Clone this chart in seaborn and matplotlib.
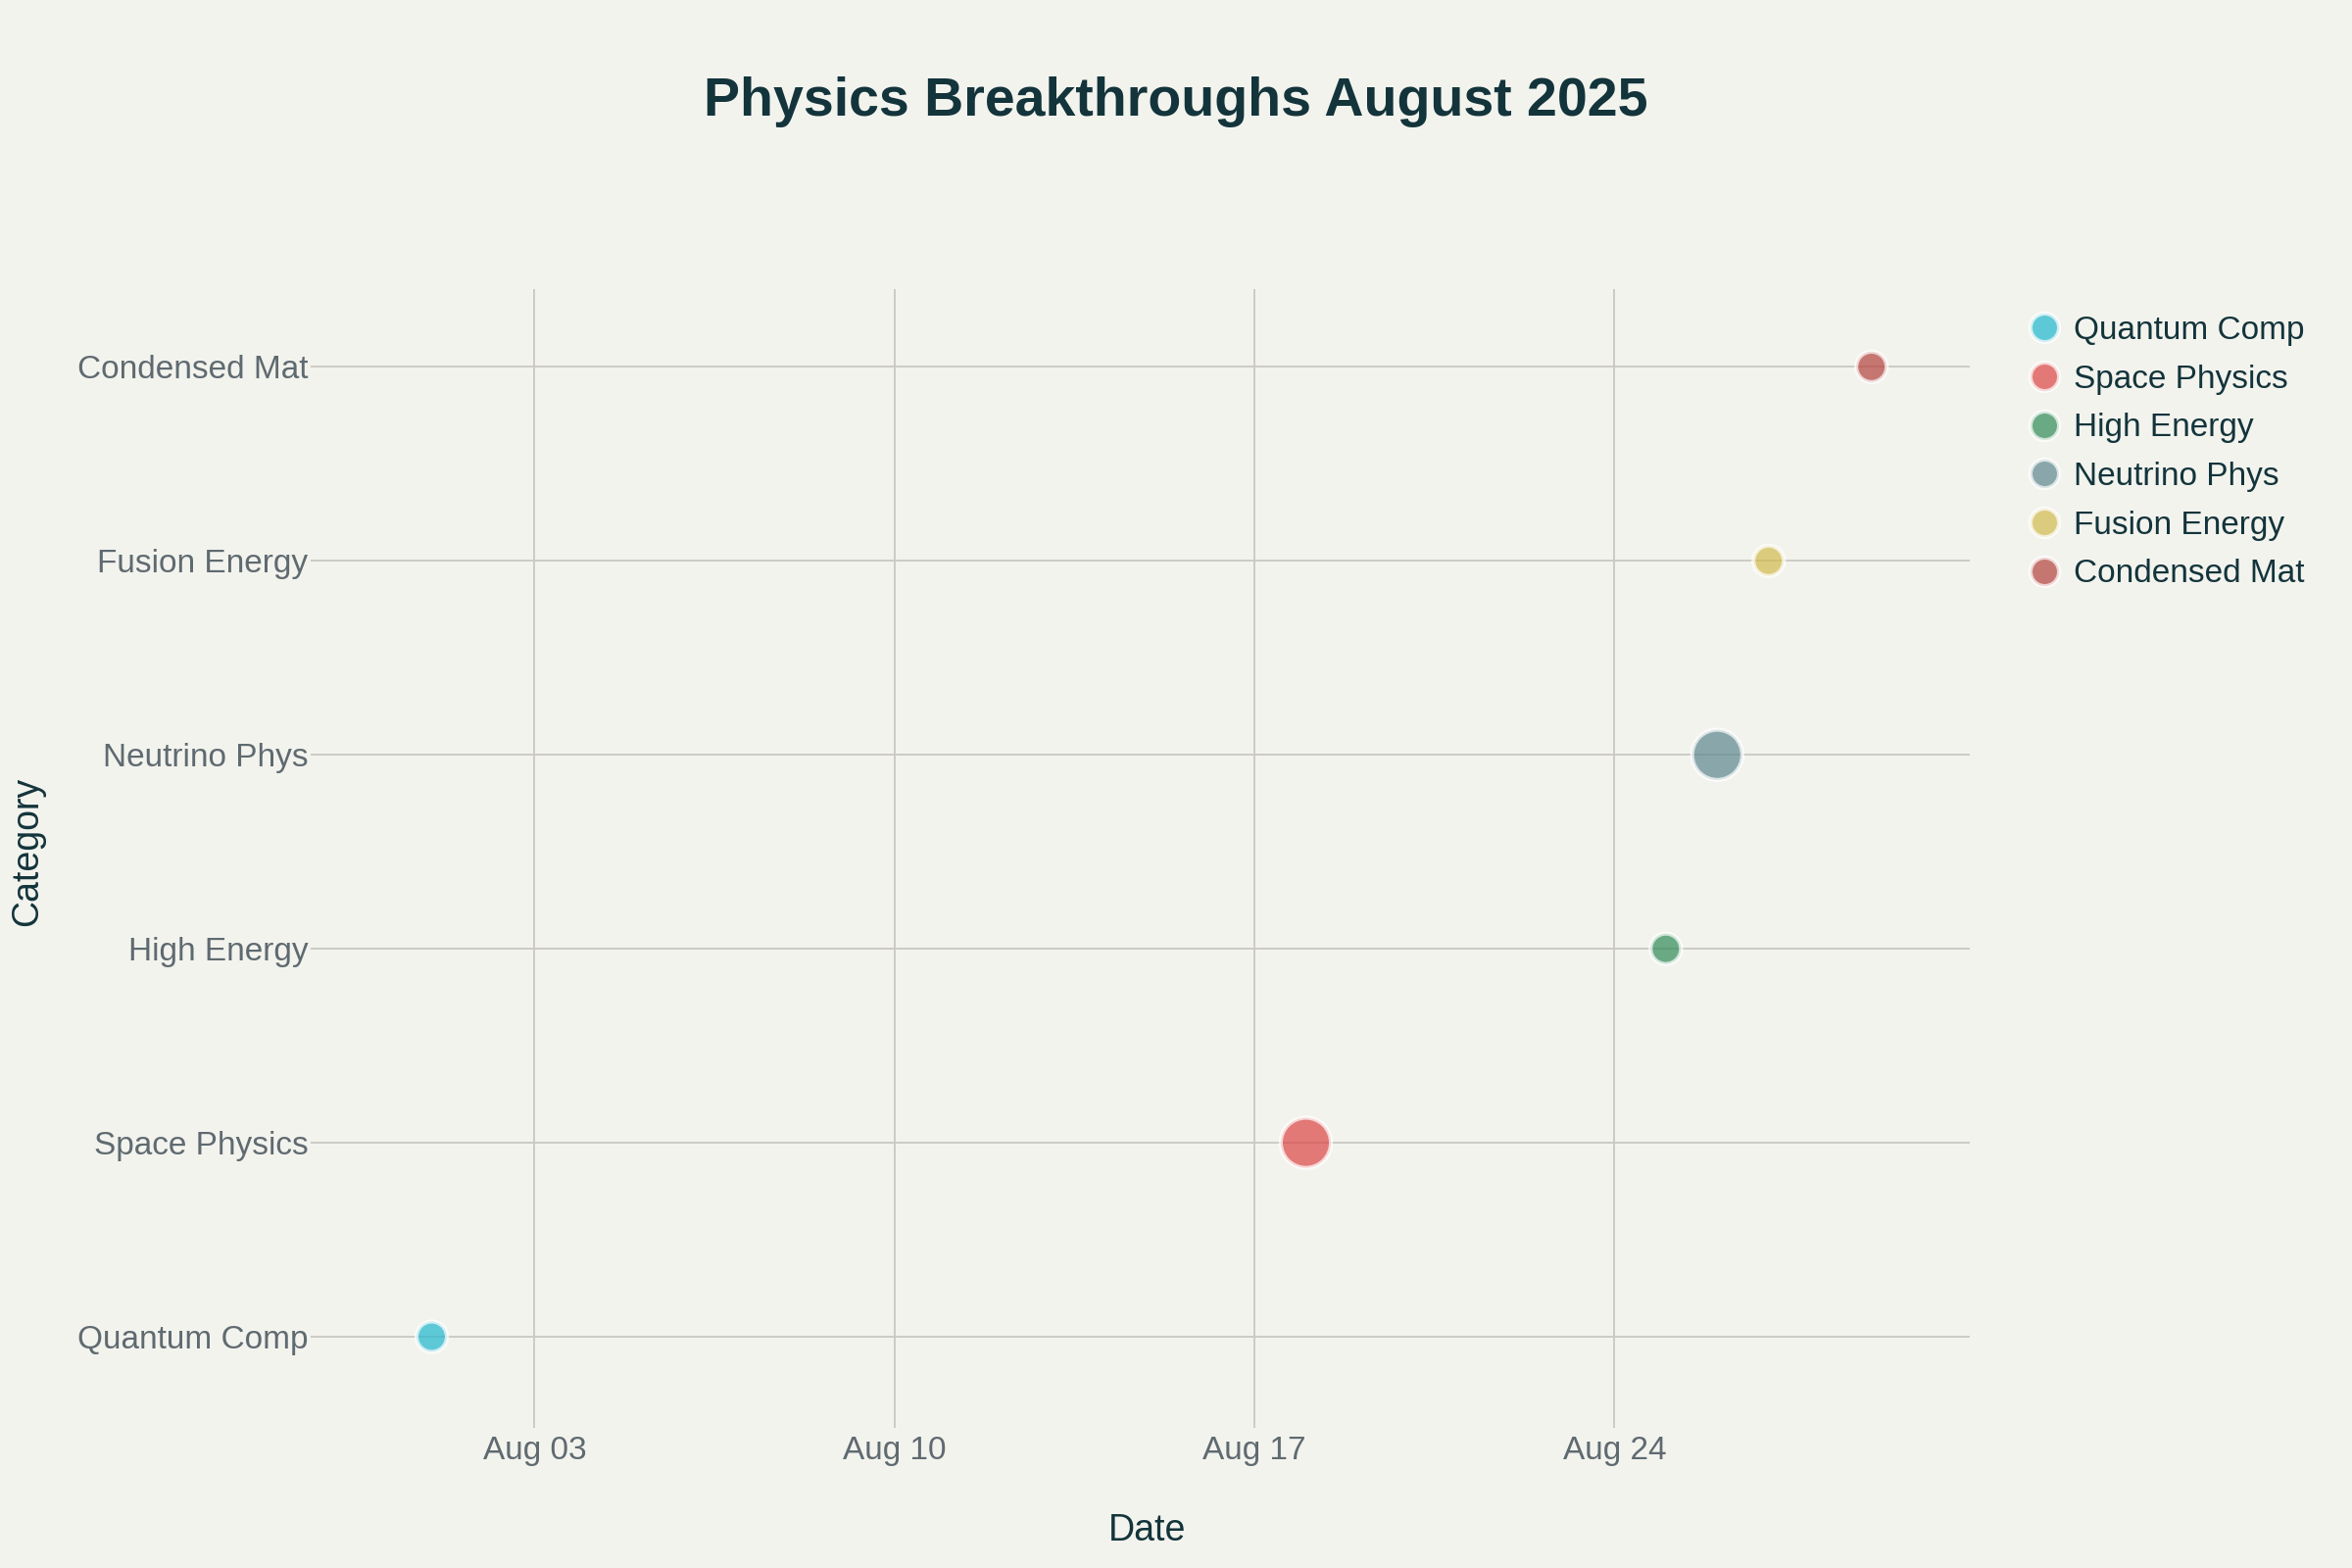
import pandas as pd
import seaborn as sns
import matplotlib.pyplot as plt
from matplotlib.lines import Line2D

# breakthrough events, one per category
categories = ["Quantum Comp", "Space Physics", "High Energy",
              "Neutrino Phys", "Fusion Energy", "Condensed Mat"]
dates = ["2025-08-01", "2025-08-18", "2025-08-25",
         "2025-08-26", "2025-08-27", "2025-08-29"]
impact = [7, 10, 7, 10, 7, 7]
colors = ["#1FB8CD", "#DB4545", "#2E8B57", "#5D878F", "#D2BA4C", "#B4413C"]

BG = "#F3F3EE"
DARK = "#13343B"
GREY = "#5F6A70"
GRID = "#CCCAC5"

df = pd.DataFrame({"Date": pd.to_datetime(dates), "Category": categories, "Impact": impact})
palette = dict(zip(categories, colors))

sns.set_theme(style="white")
plt.rcParams["font.family"] = ["Liberation Sans", "DejaVu Sans"]

fig = plt.figure(figsize=(12, 8), dpi=200, facecolor=BG)
ax = fig.add_axes([0.138, 0.098, 0.6996, 0.7175], facecolor=BG)

ax.grid(True, color=GRID, linewidth=0.7)
ax.set_axisbelow(True)

sns.scatterplot(data=df, x="Date", y="Category", hue="Category", palette=palette,
                size="Impact", sizes=(125, 340), alpha=0.7,
                edgecolor="white", linewidth=1.5, legend=False, ax=ax, zorder=3)

ax.set_ylim(-0.4, 5.4)
ax.set_xlim(pd.Timestamp("2025-07-29 22:00"), pd.Timestamp("2025-08-30 22:00"))
ticks = pd.to_datetime(["2025-08-03", "2025-08-10", "2025-08-17", "2025-08-24"])
ax.set_xticks(ticks)
ax.set_xticklabels([t.strftime("%b %d") for t in ticks])

for s in ax.spines.values():
    s.set_visible(False)
ax.tick_params(axis="both", colors=GRID, labelcolor=GREY, labelsize=12,
               length=5, width=0.7, left=True, bottom=True)
ax.tick_params(axis="x", pad=3)
ax.tick_params(axis="y", pad=1)

ax.set_xlabel("Date", fontsize=13.5, color=DARK, labelpad=17)
ax.set_ylabel("Category", fontsize=13.5, color=DARK, labelpad=12)

fig.suptitle("Physics Breakthroughs August 2025", fontsize=20, fontweight="bold",
             color=DARK, x=0.5, y=0.951)

handles = [Line2D([0], [0], marker="o", linestyle="", markersize=10.5,
                  markerfacecolor=c, markeredgecolor="white", markeredgewidth=1.5,
                  alpha=0.7) for c in colors]
fig.legend(handles, categories, loc="upper left", bbox_to_anchor=(0.858, 0.807),
           frameon=False, fontsize=12, labelcolor=DARK, handletextpad=0.5,
           handlelength=0.8, labelspacing=0.56, borderaxespad=0)

fig.savefig("out.png", dpi=200, facecolor=BG)
